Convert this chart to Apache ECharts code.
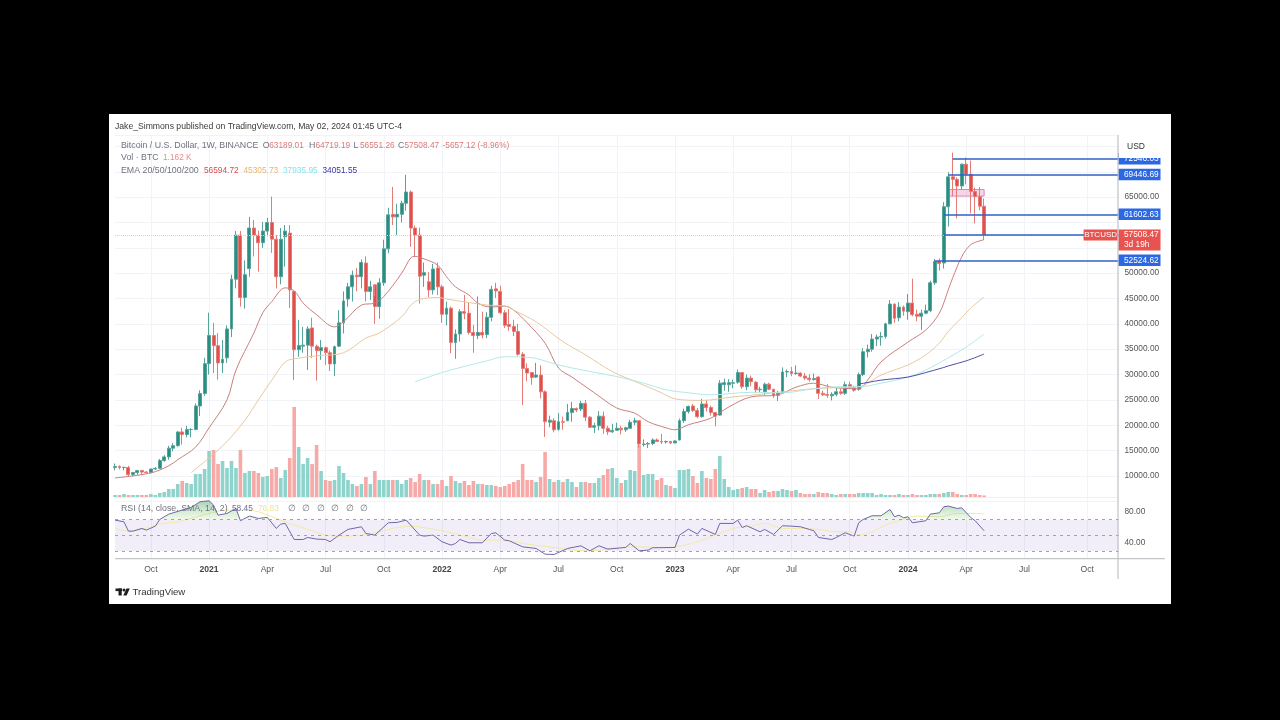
<!DOCTYPE html>
<html>
<head>
<meta charset="utf-8">
<title>Bitcoin / U.S. Dollar, 1W</title>
<script src="https://cdn.jsdelivr.net/npm/echarts@6/dist/echarts.min.js"></script>
<style>
    html, body { margin: 0; padding: 0; background: #000; }
    #panel { position: absolute; left: 109px; top: 114px; width: 1062px; height: 490px; background: #fff; }
    #main { position: absolute; left: 0; top: 0; width: 1280px; height: 720px; }
    /* the source picture is a soft video frame */
    #main canvas { filter: blur(0.45px); }
</style>
</head>
<body>
<div id="panel"></div>
<div id="main"></div>
<script type="text/javascript">
// weekly candles, first one is the week of 2020-08-10
var opens = [
    11650,11850,11650,11650,10280,10670,11080,10770,10670,11370,
    11500,13030,13760,15480,15960,18680,18170,19150,19170,23800,
    26250,32150,37700,35700,32300,33300,39000,48800,57500,45200,
    50900,58900,57500,56000,58300,60000,56700,49300,57200,57900,
    46400,34900,35600,35800,39200,35600,34700,35300,34300,32100,
    35600,40200,44900,47300,49600,49300,52000,46400,47700,43400,
    48100,54800,61600,61100,61600,63800,66000,58900,57500,49600,
    48300,46700,51000,47300,41900,43100,36300,38000,42400,42100,
    38300,37700,38300,37900,41300,46900,46400,42200,39900,39500,
    38500,34000,31200,30400,29500,29900,26600,20600,20900,19200,
    20700,20900,22500,23300,23200,24300,21600,19600,19900,21800,
    19400,18700,19000,19400,19100,19400,20600,20900,16200,16300,
    16400,17100,16800,16700,16800,16500,17100,20900,22700,23800,
    22900,21700,24200,23500,22500,22000,28000,28000,28300,28500,
    30400,27600,29300,28500,27000,26600,28100,27100,25900,26400,
    30500,30600,30200,30300,29700,29300,29000,29500,26300,26100,
    25800,26100,26600,26300,28000,27400,27100,30000,34500,35000,
    37000,37400,37500,40000,43900,41200,43300,42400,44100,41900,
    41500,42100,42600,48100,52300,52000,63100,69000,68500,67200,
    71500,69500,66100,65100,63189
];
var closes = [
    11850,11650,11700,10250,10670,11080,10770,10660,11370,11500,
    13030,13760,15480,15960,18680,18170,19150,19170,23800,26250,
    32150,37700,35700,32300,33000,39000,48800,57500,45200,49700,
    58900,57500,56000,58300,60000,56700,49300,56700,58300,46700,
    34900,35700,35800,39000,35600,34700,35300,34300,32100,35500,
    40200,44500,47300,49600,49300,52100,46400,47300,43400,48100,
    54800,61500,61100,61600,63800,66000,58900,57500,49400,50100,
    46700,50800,47300,41900,43100,36300,38000,42400,42100,38300,
    37700,38300,37800,41300,46800,46500,42200,39700,39500,38500,
    34000,31200,30300,29400,29900,26600,20700,21000,19100,20700,
    20600,22500,23300,23000,24300,21600,19600,19900,21800,19400,
    18700,19000,19400,19100,19500,20600,20900,16300,16300,16400,
    17100,16800,16700,16800,16500,16900,20900,22700,23700,22900,
    21700,24200,23500,22500,21800,28300,28400,28400,28400,30400,
    27600,29300,28600,27000,27100,28100,27100,25800,26400,30500,
    30600,30200,30300,29700,29300,29000,29200,26300,26000,25900,
    26100,26600,26300,28000,27400,26900,30000,34500,35000,37000,
    37400,37500,40000,43900,41100,43300,42500,44100,41800,41500,
    42100,42600,48100,52300,51900,63100,69000,68500,67200,71500,
    69500,66100,65100,63200,57508
];
var lows = [
    11100,11300,11100,9900,9900,10250,10150,10500,10550,11200,
    11400,12800,13200,14850,15800,16200,17600,17600,19000,21800,
    25800,30000,30300,29000,30300,32300,37400,47000,43400,43000,
    49300,53300,50300,55000,57300,54000,47000,47800,51300,43100,
    28900,33500,34300,30900,33300,28800,32900,31900,30700,29700,
    35400,38100,43400,44400,46400,47000,44400,44700,40000,41000,
    47500,53900,59500,57500,60000,62300,55200,53300,44000,47300,
    45300,45800,45700,40200,39700,34200,33100,36500,40900,37900,
    34300,37000,37100,37200,40500,45100,41900,39200,38600,37600,
    33700,24000,28700,28000,29300,25300,17700,19600,18600,18900,
    19100,20800,20700,22600,22800,20800,19500,18500,19000,18300,
    18100,18500,18900,18200,18700,19300,20000,15600,15800,15500,
    16100,16700,16300,16400,16300,16500,17000,20500,22300,22600,
    21400,21500,22700,21900,19800,21900,26800,26600,27300,28200,
    27200,26900,27700,26300,26500,25900,26900,25400,24800,26300,
    29500,29700,29900,29500,28900,28600,28800,25200,25800,25400,
    24900,25700,26000,26000,27200,26600,26800,29700,33400,34500,
    35600,35700,37100,39900,40200,40500,41600,40800,41500,40500,
    38800,41900,42300,47700,50500,50900,59200,65200,60800,66500,
    67500,61800,59800,62400,56551
];
var highs = [
    12450,12100,11800,12000,10800,11100,11180,10950,11450,11730,
    13350,14100,15950,16500,18800,19500,19900,19420,24300,26900,
    33300,42200,40200,38200,36800,39700,49700,58300,58300,52500,
    61100,60500,58400,60100,60900,65100,57500,58900,59500,59500,
    46700,40800,39400,39500,41200,35900,36800,35500,34700,35700,
    42700,46400,48100,50500,51000,52700,53300,48500,45500,49000,
    56600,62900,67000,63700,64300,69400,66300,59400,59000,52100,
    50200,51800,52100,47700,44400,43400,38900,42900,45700,44200,
    39800,45400,42400,42300,47500,48100,47500,42700,42900,40800,
    40000,34400,32200,30500,32300,31800,26900,21900,21400,22400,
    21700,24200,24600,23500,24800,25000,21800,20500,22800,22700,
    19900,20300,20500,19900,19700,21100,21500,21000,17200,16700,
    17400,17400,18300,17000,16900,17000,21300,23300,23900,24200,
    23400,25200,25000,23900,22600,28900,29200,29100,29000,31000,
    30500,30000,29800,28700,27600,28400,28400,27200,26800,31400,
    31000,31500,31800,30400,30300,30100,30200,29700,26800,28100,
    26500,27500,27200,28600,28600,27800,30400,35200,35900,38000,
    37900,38400,40200,44700,44000,44300,43600,45900,48900,42800,
    42800,43800,48500,52800,52900,64000,69900,73777,68900,71600,
    72800,72200,66900,67000,64719
];
// volume of the pane under the candles
var volumes = [
    2,2,3,2,2,2,2,2,3,2,
    4,5,8,8,13,16,14,13,23,23,
    28,46,47,33,36,29,36,29,47,24,
    26,26,24,20,21,28,30,19,27,39,
    90,50,33,39,33,52,26,17,16,17,
    31,24,17,13,11,13,20,13,26,17,
    17,17,17,17,13,17,19,15,23,17,
    17,13,13,17,11,21,16,14,16,12,
    16,13,13,12,12,11,10,11,13,15,
    17,33,17,17,15,20,45,18,15,17,
    15,18,15,10,15,15,14,14,19,22,
    28,29,19,14,17,27,26,52,22,23,
    23,17,19,12,11,9,27,27,28,21,
    14,26,19,18,28,41,18,10,7,8,
    9,10,8,8,4,7,5,6,6,8,
    7,6,7,4,3,3,3,5,4,4,
    3,2,3,3,3,3,4,4,4,4,
    2,3,2,2,2,3,2,2,3,2,
    2,2,3,3,3,4,5,5,3,2,
    2,3,3,2,1.5
];
// [week, price]
var ema20 = [[0,9600],[8,10600],[12,12000],[14,13200],[18,15700],[21,19500],[25,25000],[27,30900],[31,38200],[33,42200],[35,44400],[38,47100],[40,46500],[42,44100],[45,41800],[49,39400],[51,40400],[55,43700],[58,44100],[60,45400],[64,50000],[66,53000],[67,53300],[69,52800],[72,51600],[74,49300],[76,47300],[79,45700],[81,44100],[84,43300],[87,43500],[89,42700],[92,40200],[96,36200],[99,31300],[102,29500],[107,26400],[112,23400],[116,22400],[119,20700],[123,19500],[125,19100],[128,20100],[133,21400],[137,23600],[142,25600],[148,26000],[152,27500],[156,28300],[160,27500],[166,27200],[168,28900],[171,32500],[177,36400],[181,38800],[184,42100],[186,46700],[187,49100],[189,53200],[191,55600],[194,56600]];
var ema50 = [[17,10650],[21,13550],[25,16800],[29,21000],[32,25000],[35,28900],[38,32500],[40,33100],[45,33700],[51,34300],[56,37200],[59,38200],[64,41400],[67,44400],[72,45200],[74,44900],[79,44200],[83,43700],[87,43500],[89,42700],[94,40400],[100,36500],[105,33900],[111,30600],[117,28300],[122,26400],[125,25200],[131,24900],[138,25600],[143,26000],[149,26600],[156,27200],[161,27400],[166,27600],[171,29900],[177,31900],[181,33900],[184,36200],[186,38500],[189,41200],[191,43100],[194,45300]];
var ema100 = [[67,28600],[73,30400],[78,31600],[83,32700],[87,33500],[89,33500],[92,33400],[94,33200],[99,31900],[106,30600],[112,29600],[118,28300],[123,27000],[128,26400],[133,26000],[142,26500],[149,26400],[156,27200],[162,27600],[166,27600],[171,28300],[177,29500],[181,30900],[186,33300],[190,35400],[194,38000]];
var ema200 = [[166,28100],[171,28900],[177,29500],[181,30400],[185,31400],[186,31700],[190,32700],[194,34050]];
var rsi = [[0,69.4],[2,67.3],[3,55.3],[4,55.3],[6,58.8],[7,56.6],[9,61.7],[10,70.3],[12,77.1],[15,82.3],[17,85.7],[19,93],[21,94.2],[22,88.7],[23,75.8],[25,78],[27,84.4],[28,68.6],[30,74.6],[32,71.6],[34,72.9],[36,58.8],[37,64.3],[38,65.2],[40,44.6],[42,44.6],[43,47.2],[45,45.1],[47,44.6],[48,41.7],[50,50.2],[52,57.5],[55,60.9],[56,52.3],[58,50.2],[61,66],[63,66.5],[65,69.4],[68,50.2],[69,48.9],[71,50.2],[73,41.7],[75,37.4],[76,39.5],[77,44.6],[79,40.4],[82,40.4],[84,52.3],[85,53.2],[87,43.8],[88,42.9],[91,35.2],[94,33.1],[96,25.8],[98,25.4],[101,33.1],[104,36.5],[106,30.1],[108,36.5],[110,32.3],[114,34.4],[115,39.5],[117,30.1],[119,31],[120,34],[125,34.4],[126,50.2],[128,57.9],[130,51.5],[131,58.8],[134,51.1],[135,65.2],[138,65.2],[139,69.4],[140,60],[141,62.2],[144,54.5],[145,57.5],[147,51.1],[149,62.2],[151,61.7],[153,60.9],[155,57.5],[156,55.8],[157,47.2],[160,44.6],[161,47.2],[163,53.2],[165,48.9],[166,66],[167,70.3],[169,75],[171,75],[173,83.1],[174,73.7],[175,75.8],[176,72.4],[177,73.7],[178,66],[181,68.6],[182,77.1],[184,78.8],[185,86.5],[186,87.4],[188,84.4],[189,85.2],[191,72.9],[192,68.6],[194,55.8]];
var rsiSma = [[0,58.8],[3,55.3],[6,57.5],[10,64.3],[14,67.3],[17,71.6],[21,78],[25,82.3],[29,82.3],[32,80.1],[36,71.6],[40,63],[44,55.8],[47,50.2],[51,48.9],[55,50.2],[58,53.2],[62,58.8],[66,61.7],[70,58.8],[73,55.8],[75,53.2],[79,47.2],[82,43.8],[87,43.8],[92,38.7],[97,35.2],[102,31],[106,30.1],[112,34.4],[117,35.2],[122,34.4],[125,35.2],[130,41.7],[134,50.2],[138,58.8],[142,61.7],[145,65.2],[149,58.8],[153,58.8],[157,57.5],[161,54.5],[164,54.5],[166,50.2],[169,54.5],[172,63],[176,70.3],[179,74.6],[184,73.7],[188,78],[192,78],[194,77.1]];

var tickWeeks = [8,21,34,47,60,73,86,99,112,125,138,151,164,177,190,203,217];
var tickLabels = ['Oct','2021','Apr','Jul','Oct','2022','Apr','Jul','Oct','2023','Apr','Jul','Oct','2024','Apr','Jul','Oct'];
var priceTicks = [10000,15000,20000,25000,30000,35000,40000,45000,50000,65000];
var rsiTicks = [40,80];

// blue levels drawn on the chart: price, first week of the line
var levelPrices = [72546.03,69446.69,61602.63,52524.62];
var levelWeeks = [187,186,185,183];
var lastPrice = 57508.47;
var lastLevelWeek = 185;
var extraLabel = 57593.75;

var WEEKS = 225;
var FONT = '"Liberation Sans", Arial, sans-serif';
var GREEN = '#2a8d82', RED = '#e04f4b';
var BLUE = '#2f62c9', BOX_BLUE = '#2b68e2';
var GRID_LINE = '#f1f3f7';
var TICK_SIZE = 8.3;
var GRAY = '#6f7280';

var categories = [];
for (var w = 0; w < WEEKS; w++) {
    categories.push(new Date(Date.UTC(2020, 7, 10 + w * 7)).toISOString().slice(0, 10));
}
var candles = [];
var volumeBars = [];
for (var i = 0; i < opens.length; i++) {
    candles.push([opens[i], closes[i], lows[i], highs[i]]);
    volumeBars.push({
        value: volumes[i],
        itemStyle: { color: closes[i] >= opens[i] ? '#8ed4cc' : '#f6a9a6' }
    });
}

function isTick(index) {
    return tickWeeks.indexOf(index) >= 0;
}
function levelLabel(text, color) {
    return {
        show: true, position: 'end', distance: 0, formatter: text,
        color: '#fff', fontFamily: FONT, fontSize: TICK_SIZE,
        backgroundColor: color, padding: [1.5, 5.5, 1, 5.5], width: 31, lineHeight: 9
    };
}
function level(price, week) {
    return [
        { coord: [week, price], symbol: 'none' },
        { coord: [WEEKS - 1, price], symbol: 'none', lineStyle: { color: BLUE, width: 1.5, type: 'solid' },
          label: levelLabel(price.toFixed(2), BOX_BLUE) }
    ];
}
function legendStyle(color, size, width) {
    return { fontFamily: FONT, fontSize: size, fontWeight: 'normal', color: color, width: width, align: 'left' };
}

var levelLines = [];
// last price dotted across the whole pane
levelLines.push([
    { coord: [0, lastPrice], symbol: 'none' },
    { coord: [WEEKS - 1, lastPrice], symbol: 'none', lineStyle: { color: '#f3c9bb', width: 1, type: 'dotted' }, label: { show: false } }
]);
for (var k = 0; k < levelPrices.length; k++) {
    levelLines.push(level(levelPrices[k], levelWeeks[k]));
}
// price label with no line of its own
levelLines.push([
    { coord: [WEEKS - 1, extraLabel], symbol: 'none' },
    { coord: [WEEKS - 1, extraLabel], symbol: 'none', lineStyle: { opacity: 0 }, label: levelLabel(extraLabel.toFixed(2), BOX_BLUE) }
]);
var lastBox = levelLabel('57508.47\n3d 19h', '#e8534f');
lastBox.lineHeight = 10;
lastBox.padding = [1, 5.5, 0, 5.5];
lastBox.offset = [0, 5];
levelLines.push([
    { coord: [lastLevelWeek, lastPrice], symbol: 'none' },
    { coord: [WEEKS - 1, lastPrice], symbol: 'none', lineStyle: { color: BLUE, width: 1.5, type: 'solid' }, label: lastBox }
]);

function line(name, data, color) {
    return {
        name: name, type: 'line', data: data, xAxisIndex: 0, yAxisIndex: 0,
        showSymbol: false, smooth: 0.35, silent: true,
        lineStyle: { color: color, width: 1 }, z: 3
    };
}

var option = {
    animation: false,
    textStyle: { fontFamily: FONT },
    title: [
        { left: 115, top: 122.5, padding: 0, text: 'Jake_Simmons published on TradingView.com, May 02, 2024 01:45 UTC-4',
          textStyle: { fontFamily: FONT, fontSize: 8.65, fontWeight: 'normal', color: '#3a3a3a' } },
        { left: 121, top: 141.5, padding: 0,
          text: '{t|Bitcoin / U.S. Dollar, 1W, BINANCE}{g|O}{o|63189.01}{g|H}{v|64719.19}{g|L}{v|56551.26}{g|C}{v|57508.47}{c|-5657.12 (-8.96%)}',
          textStyle: { rich: {
              t: legendStyle(GRAY, 8.8, 141.7),
              g: legendStyle(GRAY, 8.8, 6.5),
              o: legendStyle('#dd7a78', 8.3, 39.8),
              v: legendStyle('#dd7a78', 8.3, 38),
              c: legendStyle('#dd7a78', 8.3, 70)
          } } },
        { left: 121, top: 153.5, padding: 0,
          text: '{g|Vol · BTC}{r|1.162 K}',
          textStyle: { rich: {
              g: legendStyle(GRAY, 8.8, 42),
              r: legendStyle('#e58f8c', 8.3, 36)
          } } },
        { left: 121, top: 166.5, padding: 0,
          text: '{g|EMA 20/50/100/200}{a|56594.72}{b|45305.73}{c|37935.95}{d|34051.55}',
          textStyle: { rich: {
              g: legendStyle(GRAY, 8.8, 83),
              a: legendStyle('#dc4a47', 8.3, 39.5),
              b: legendStyle('#eeb468', 8.3, 39.5),
              c: legendStyle('#86e4ea', 8.3, 39.5),
              d: legendStyle('#3636a8', 8.3, 39.5)
          } } },
        { left: 121, top: 504, padding: 0,
          text: '{g|RSI (14, close, SMA, 14, 2)}{p|58.45}{y|76.83}{n|∅}{n|∅}{n|∅}{n|∅}{n|∅}{n|∅}',
          textStyle: { rich: {
              g: legendStyle(GRAY, 8.8, 111),
              p: legendStyle('#6d6ca5', 8.3, 26),
              y: legendStyle('#eee59a', 8.3, 30),
              n: legendStyle(GRAY, 8.8, 14.4)
          } } }
    ],
    grid: [
        { left: 115, top: 135, width: 1003.5, height: 366.3 },
        { left: 115, top: 400, width: 1003.5, height: 97 },
        { left: 115, top: 497.5, width: 1003.5, height: 61.2 }
    ],
    xAxis: [
        {
            type: 'category', gridIndex: 0, data: categories, boundaryGap: false,
            axisLine: { show: false }, axisTick: { show: false }, axisLabel: { show: false },
            splitLine: { show: true, interval: isTick, lineStyle: { color: GRID_LINE, width: 1 } }
        },
        {
            type: 'category', gridIndex: 1, data: categories, boundaryGap: false,
            axisLine: { show: false }, axisTick: { show: false }, axisLabel: { show: false }, splitLine: { show: false }
        },
        {
            type: 'category', gridIndex: 2, data: categories, boundaryGap: false,
            axisLine: { show: false }, axisTick: { show: false },
            splitLine: { show: true, interval: isTick, lineStyle: { color: GRID_LINE, width: 1 } },
            axisLabel: {
                show: true, interval: isTick, margin: 6, color: '#555', fontFamily: FONT, fontSize: 8.6,
                formatter: function (value, index) {
                    var label = tickLabels[tickWeeks.indexOf(index)];
                    return /^\d/.test(label) ? '{y|' + label + '}' : label;
                },
                rich: { y: { fontFamily: FONT, fontSize: 8.6, fontWeight: 'bold', color: '#444' } }
            }
        }
    ],
    yAxis: [
        {
            type: 'value', gridIndex: 0, position: 'right', min: 5000, max: 77250, interval: 5000,
            axisLine: { show: false }, axisTick: { show: false },
            splitLine: { show: true, lineStyle: { color: GRID_LINE, width: 1 } },
            axisLabel: {
                margin: 6, color: '#555', fontFamily: FONT, fontSize: TICK_SIZE, align: 'left', padding: [2, 0, 0, 0],
                formatter: function (v) { return priceTicks.indexOf(v) >= 0 ? v.toFixed(2) : ''; }
            }
        },
        {
            type: 'value', gridIndex: 1, min: 0, max: 97, show: false
        },
        {
            type: 'value', gridIndex: 2, position: 'right', min: 20, max: 98.4, interval: 20,
            axisLine: { show: false }, axisTick: { show: false },
            splitLine: { show: false },
            axisLabel: {
                margin: 6, color: '#555', fontFamily: FONT, fontSize: TICK_SIZE, align: 'left', padding: [2, 0, 0, 0],
                formatter: function (v) { return rsiTicks.indexOf(v) >= 0 ? v.toFixed(2) : ''; }
            }
        }
    ],
    series: [
        {
            name: 'Vol', type: 'bar', xAxisIndex: 1, yAxisIndex: 1, data: volumeBars,
            barWidth: 3.6, silent: true, z: 1
        },
        line('EMA 20', ema20, '#c97f7c'),
        line('EMA 50', ema50, '#e9c89c'),
        line('EMA 100', ema100, '#b2e8e8'),
        line('EMA 200', ema200, '#4e4ea6'),
        {
            name: 'BTCUSD', type: 'candlestick', xAxisIndex: 0, yAxisIndex: 0, data: candles,
            barWidth: 3.4, silent: true, z: 2,
            itemStyle: {
                color: GREEN, color0: RED,
                borderColor: '#55a399', borderColor0: '#e47b77', borderWidth: 1
            },
            markLine: {
                silent: true, symbol: 'none', animation: false, data: levelLines, z: 6
            },
            markArea: {
                silent: true,
                itemStyle: { color: 'rgba(233,100,170,0.28)', borderColor: '#d58ac8', borderWidth: 1 },
                data: [[{ coord: [186, 66500] }, { coord: [194, 65200] }]]
            },
            markPoint: {
                silent: true, animation: false, z: 7,
                data: [{
                    coord: [220, lastPrice], symbol: 'rect', symbolSize: [34, 11],
                    itemStyle: { color: '#e8534f' },
                    label: { show: true, formatter: 'BTCUSD', color: '#fff', fontFamily: FONT, fontSize: 8 }
                }]
            }
        },
        {
            name: 'RSI', type: 'line', xAxisIndex: 2, yAxisIndex: 2, data: rsi,
            showSymbol: false, silent: true, z: 4,
            lineStyle: { color: '#6f66a8', width: 1 },
            areaStyle: {
                origin: 70,
                color: {
                    type: 'linear', global: true, x: 0, y: 497.5, x2: 0, y2: 520,
                    colorStops: [
                        { offset: 0, color: 'rgba(46,150,90,0.75)' },
                        { offset: 0.98, color: 'rgba(190,230,170,0.35)' },
                        { offset: 1, color: 'rgba(190,230,170,0)' }
                    ]
                }
            },
            markArea: {
                silent: true,
                itemStyle: { color: 'rgba(126,87,194,0.1)' },
                data: [[{ yAxis: 70 }, { yAxis: 30 }]]
            },
            markLine: {
                silent: true, symbol: 'none', animation: false, label: { show: false },
                lineStyle: { color: '#a0a2ad', width: 1, type: [3, 4] },
                data: [{ yAxis: 70 }, { yAxis: 50 }, { yAxis: 30 }]
            }
        },
        {
            name: 'RSI SMA', type: 'line', xAxisIndex: 2, yAxisIndex: 2, data: rsiSma,
            showSymbol: false, smooth: 0.35, silent: true, z: 3,
            lineStyle: { color: '#f1e9a4', width: 1 }
        }
    ],
    graphic: [
        // header box hides the top of the highest price label, as in the picture
        { type: 'rect', z: 100, shape: { x: 1119, y: 135, width: 50, height: 23 }, style: { fill: '#fff' } },
        { type: 'text', z: 101, style: { x: 1127, y: 142, text: 'USD', fill: '#333', font: '8.5px ' + FONT } },
        { type: 'line', z: 90, shape: { x1: 1118, y1: 135, x2: 1118, y2: 579 }, style: { stroke: '#b4b6be', lineWidth: 1 } },
        { type: 'line', z: 90, shape: { x1: 115, y1: 558.7, x2: 1165, y2: 558.7 }, style: { stroke: '#c2c4ca', lineWidth: 1.2 } },
        { type: 'line', z: 0, shape: { x1: 115, y1: 497.5, x2: 1118, y2: 497.5 }, style: { stroke: '#eef0f4', lineWidth: 1 } },
        // TradingView mark
        { type: 'rect', z: 100, shape: { x: 115.5, y: 588.5, width: 6.5, height: 2.6 }, style: { fill: '#1c1c1c' } },
        { type: 'rect', z: 100, shape: { x: 118.5, y: 588.5, width: 3.2, height: 7 }, style: { fill: '#1c1c1c' } },
        { type: 'circle', z: 100, shape: { cx: 124, cy: 590, r: 1.5 }, style: { fill: '#1c1c1c' } },
        { type: 'polygon', z: 100, shape: { points: [[126.5, 588.5], [129.8, 588.5], [126.6, 595.5], [123.3, 595.5]] }, style: { fill: '#1c1c1c' } },
        { type: 'text', z: 100, style: { x: 132.5, y: 587.5, text: 'TradingView', fill: '#333', font: '9.6px ' + FONT } }
    ]
};

var myChart = echarts.init(document.getElementById('main'), null, { renderer: 'canvas' });
myChart.setOption(option);
</script>
</body>
</html>
